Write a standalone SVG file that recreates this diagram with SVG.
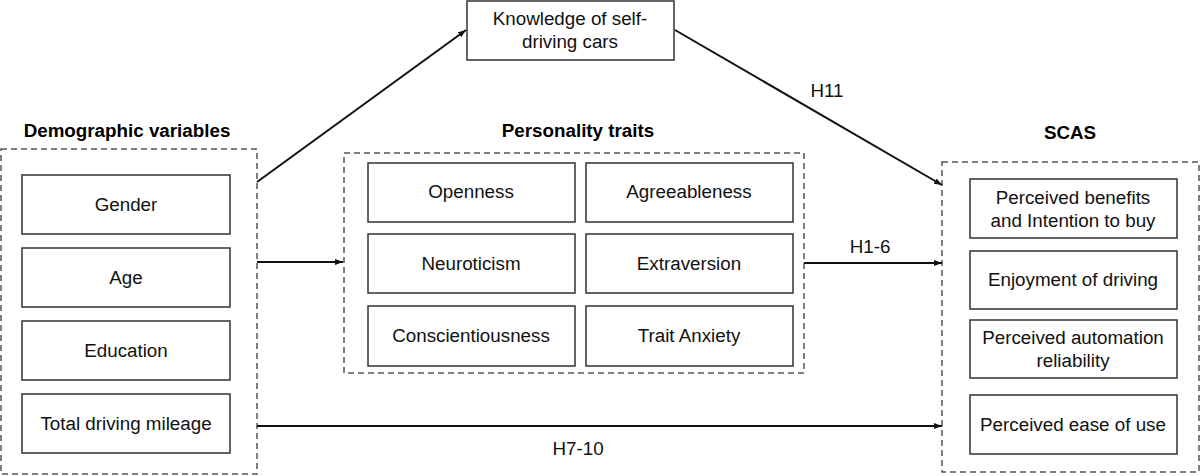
<svg xmlns="http://www.w3.org/2000/svg" width="1200" height="476" viewBox="0 0 1200 476">
<style>
.box{fill:#fff;stroke:#333;stroke-width:1.5}
.grp{fill:none;stroke:#555;stroke-width:1.5;stroke-dasharray:6,4}
.t{font-family:"Liberation Sans",Arial,sans-serif;font-size:18.8px;fill:#111;text-anchor:middle}
.h{font-family:"Liberation Sans",Arial,sans-serif;font-size:18.8px;font-weight:bold;fill:#000;text-anchor:middle}
.c{fill:none;stroke:#111;stroke-width:2;marker-end:url(#ah)}
</style>
<defs>
<marker id="ah" viewBox="0 0 8 6" refX="8" refY="3" markerWidth="4" markerHeight="3" orient="auto" markerUnits="strokeWidth">
<path d="M0,0 L8,3 L0,6 z" fill="#111"/>
</marker>
</defs>
<rect width="1200" height="476" fill="#fff"/>

<g id="demographic">
<text class="h" x="127" y="137">Demographic variables</text>
<rect class="grp" x="1" y="149" width="256" height="325"/>
<g id="gender"><rect class="box" x="22" y="175" width="208" height="59"/><text class="t" x="126" y="211">Gender</text></g>
<g id="age"><rect class="box" x="22" y="248" width="208" height="59"/><text class="t" x="126" y="284">Age</text></g>
<g id="education"><rect class="box" x="22" y="321" width="208" height="59"/><text class="t" x="126" y="357">Education</text></g>
<g id="mileage"><rect class="box" x="22" y="394" width="208" height="59"/><text class="t" x="126" y="430">Total driving mileage</text></g>
</g>

<g id="knowledge">
<rect class="box" x="467" y="1" width="207" height="59"/>
<text class="t" x="570" y="25">Knowledge of self-</text>
<text class="t" x="570" y="48">driving cars</text>
</g>

<g id="personality">
<text class="h" x="578" y="137">Personality traits</text>
<rect class="grp" x="344" y="153" width="460" height="220"/>
<g id="openness"><rect class="box" x="368" y="163" width="207" height="59"/><text class="t" x="471" y="198">Openness</text></g>
<g id="agreeableness"><rect class="box" x="586" y="163" width="207" height="59"/><text class="t" x="689" y="198">Agreeableness</text></g>
<g id="neuroticism"><rect class="box" x="368" y="234" width="207" height="59"/><text class="t" x="471" y="270">Neuroticism</text></g>
<g id="extraversion"><rect class="box" x="586" y="234" width="207" height="59"/><text class="t" x="689" y="270">Extraversion</text></g>
<g id="conscientiousness"><rect class="box" x="368" y="306" width="207" height="60"/><text class="t" x="471" y="342">Conscientiousness</text></g>
<g id="anxiety"><rect class="box" x="586" y="306" width="207" height="60"/><text class="t" x="689" y="342">Trait Anxiety</text></g>
</g>

<g id="scas">
<text class="h" x="1070" y="139">SCAS</text>
<rect class="grp" x="942" y="162" width="257" height="310"/>
<g id="benefits"><rect class="box" x="970" y="179" width="207" height="59"/><text class="t" x="1073" y="204">Perceived benefits</text><text class="t" x="1073" y="227">and Intention to buy</text></g>
<g id="enjoyment"><rect class="box" x="970" y="251" width="207" height="58"/><text class="t" x="1073" y="286">Enjoyment of driving</text></g>
<g id="reliability"><rect class="box" x="970" y="320" width="207" height="58"/><text class="t" x="1073" y="344">Perceived automation</text><text class="t" x="1073" y="367">reliability</text></g>
<g id="ease"><rect class="box" x="970" y="395" width="207" height="59"/><text class="t" x="1073" y="431">Perceived ease of use</text></g>
</g>

<g id="connectors">
<line class="c" x1="257" y1="182" x2="466" y2="30"/>
<line class="c" x1="675" y1="30" x2="942" y2="185"/>
<line class="c" x1="257" y1="262" x2="343" y2="262"/>
<line class="c" x1="804" y1="263" x2="942" y2="263"/>
<line class="c" x1="257" y1="426" x2="942" y2="426"/>
<text class="t" x="827" y="97">H11</text>
<text class="t" x="870" y="253">H1-6</text>
<text class="t" x="578" y="455">H7-10</text>
</g>
</svg>
